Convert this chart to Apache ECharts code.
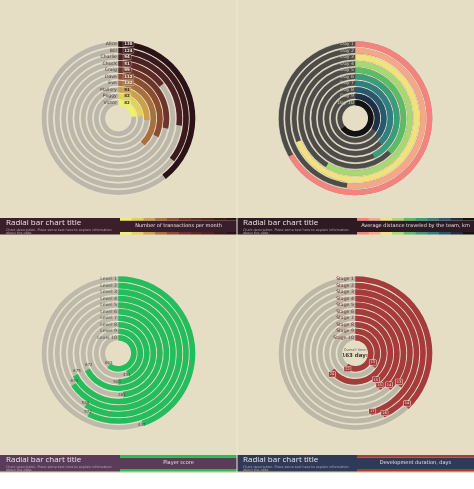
<!DOCTYPE html>
<html>
<head>
<meta charset="utf-8">
<script src="https://cdn.jsdelivr.net/npm/echarts@6/dist/echarts.min.js"></script>
<style>
html,body{margin:0;padding:0;background:#e5dec4;}
#main{width:474px;height:489px;}
</style>
</head>
<body>
<div id="main"></div>
<script>
/* chart 1 - transactions */
var people = ['Alice','Bill','Charlie','Chuck','Craig','Dave','Eve','Mallory','Peggy','Victor'];
var transactions = [138,124,94,51,99,112,132,91,82,82];
var transactionsMax = 350;

/* chart 2 - distance */
var days = ['Day 1','Day 2','Day 3','Day 4','Day 5','Day 6','Day 7','Day 8','Day 9','Day 10'];
var distance = [240,187,248,211,135,154,135,128,122,233];
var distanceMax = 360;

/* chart 3 - player score */
var levels = ['Level 1','Level 2','Level 3','Level 4','Level 5','Level 6','Level 7','Level 8','Level 9','Level 10'];
var scores = [447,572,589,653,675,481,672,500,431,603];
var scoresMax = 1000;

/* chart 4 - development duration */
var stages = ['Stage 1','Stage 2','Stage 3','Stage 4','Stage 5','Stage 6','Stage 7','Stage 8','Stage 9','Stage 10'];
var duration = [14,16,17,13,14,15,15,24,13,22];
var durationMax = 37;

var colors1 = ['#2a1217','#3b1a1e','#4d2224','#5d2a27','#6e3429','#8b4d30','#a9703d','#caa04b','#e1d25a','#eef26a'];
var colors2 = ['#f4837d','#f6a886','#f2e27e','#a9d873','#5dbb66','#3b9c7a','#2f7f80','#27586e','#1e2f48','#121212'];

var chart = echarts.init(document.getElementById('main'));

var centers = [[118.3,118.3],[355.3,118.3],[118.3,353.3],[355.3,353.3]];
var maxes = [transactionsMax, distanceMax, scoresMax, durationMax];
var cats = [people, days, levels, stages];
var labelColors = ['#4a3535','#d4d0c4','#3f5244','#6b2a2a'];

var polar = [], angleAxis = [], radiusAxis = [];
for (var i = 0; i < 4; i++) {
    polar.push({center: centers[i], radius: [12.3, 77.5]});
    angleAxis.push({polarIndex: i, min: 0, max: maxes[i], startAngle: 90, clockwise: true, show: false});
    radiusAxis.push({
        polarIndex: i, type: 'category', data: cats[i], inverse: true, z: 10,
        axisLine: {show: false}, axisTick: {show: false}, splitLine: {show: false},
        axisLabel: {interval: 0, fontSize: 4.6, margin: 1.5, color: labelColors[i], fontFamily: 'DejaVu Sans'}
    });
}

function colored(values, cols) {
    return values.map(function(v, k){
        return {value: v, itemStyle: {color: cols[k]},
            label: {color: k < 7 ? '#f1e9e4' : '#3a2a1a', backgroundColor: cols[k]}};
    });
}

var gapLine = {borderColor: '#efeadb', borderWidth: 0.6};

var series = [
    {
        type: 'bar', coordinateSystem: 'polar', polarIndex: 0, barCategoryGap: '14%',
        data: colored(transactions, colors1),
        showBackground: true, backgroundStyle: Object.assign({color: '#bcb7a8'}, gapLine),
        label: {show: true, position: 'insideStart', rotate: 0, fontSize: 4, fontWeight: 'bold',
            borderColor: '#d8d0c0', borderWidth: 0.4, padding: [0.3, 1], fontFamily: 'DejaVu Sans'}
    },
    {
        type: 'bar', coordinateSystem: 'polar', polarIndex: 1, barCategoryGap: '14%',
        data: distance.map(function(v, k){ return {value: v, itemStyle: {color: colors2[k]}}; }),
        showBackground: true, backgroundStyle: Object.assign({color: '#4e4c47'}, gapLine)
    },
    {
        type: 'bar', coordinateSystem: 'polar', polarIndex: 2, barCategoryGap: '14%',
        data: scores, itemStyle: {color: '#25bd5c'},
        showBackground: true, backgroundStyle: Object.assign({color: '#bfb9a9'}, gapLine),
        label: {show: true, position: 'end', rotate: 0, fontSize: 4, color: '#4d4a3a', fontFamily: 'DejaVu Sans'}
    },
    {
        type: 'bar', coordinateSystem: 'polar', polarIndex: 3, barCategoryGap: '14%',
        data: duration, itemStyle: {color: '#a53b3b'},
        showBackground: true, backgroundStyle: Object.assign({color: '#bdb8a6'}, gapLine),
        label: {show: true, position: 'insideEnd', rotate: 0, fontSize: 3.6, color: '#f3e6dc',
            backgroundColor: '#a53b3b', borderColor: '#f0e4d8', borderWidth: 0.5, padding: [0.5, 1], fontFamily: 'DejaVu Sans'}
    }
];

var totalDays = duration.reduce(function(a, b){ return a + b; }, 0);

/* banners */
var desc = 'Chart description. Place some text here to explain information\nabout the data.';
var graphics = [];
function banner(x0, y0, leftCol, bodyCol, strip, name) {
    graphics.push({type: 'rect', shape: {x: x0, y: y0, width: 120, height: 16.5}, style: {fill: leftCol}});
    graphics.push({type: 'rect', shape: {x: x0 + 120, y: y0 + 2.5, width: 117, height: 11.5}, style: {fill: bodyCol}});
    var w = 117 / strip.length;
    for (var s = 0; s < strip.length; s++) {
        graphics.push({type: 'rect', shape: {x: x0 + 120 + s * w, y: y0, width: w + 0.3, height: 2.5}, style: {fill: strip[s]}});
        graphics.push({type: 'rect', shape: {x: x0 + 120 + s * w, y: y0 + 14, width: w + 0.3, height: 2.5}, style: {fill: strip[s]}});
    }
    graphics.push({type: 'text', x: x0 + 6, y: y0 + 0.5, style: {text: 'Radial bar chart title', fill: '#eee4e6', fontSize: 8, fontFamily: 'Open Sans'}});
    graphics.push({type: 'text', x: x0 + 6, y: y0 + 10, style: {text: desc, fill: '#b4a3ab', fontSize: 3.4, lineHeight: 3.6, fontFamily: 'DejaVu Sans'}});
    graphics.push({type: 'text', x: x0 + 178.5, y: y0 + 8.2, style: {text: name, fill: '#e9e2e0', fontSize: 5, fontFamily: 'DejaVu Sans', align: 'center', verticalAlign: 'middle'}});
}
banner(0, 218, '#3b1e2c', '#3b1e2c', colors1.slice().reverse(), 'Number of transactions per month');
banner(237, 218, '#2e1a24', '#2e1a24', colors2, 'Average distance traveled by the team, km');
banner(0, 455, '#5a3c5a', '#5a3c5a', ['#25bd5c'], 'Player score');
banner(237, 455, '#2e3a58', '#2e3a58', ['#a53b3b'], 'Development duration, days');

graphics.push({type: 'rect', shape: {x: 236.5, y: 0, width: 1, height: 473}, style: {fill: '#ede8d5'}});
graphics.push({type: 'rect', shape: {x: 0, y: 473, width: 474, height: 16}, style: {fill: '#ffffff'}});
graphics.push({type: 'text', x: centers[3][0], y: centers[3][1] - 3, style: {text: 'Overall time:', fill: '#6a6458', fontSize: 3.6, align: 'center', verticalAlign: 'middle', fontFamily: 'DejaVu Sans'}});
graphics.push({type: 'text', x: centers[3][0], y: centers[3][1] + 2.5, style: {text: totalDays + ' days', fill: '#3a3530', fontSize: 5.5, fontWeight: 'bold', align: 'center', verticalAlign: 'middle', fontFamily: 'DejaVu Sans'}});

chart.setOption({
    backgroundColor: '#e5dec4',
    animation: false,
    polar: polar,
    angleAxis: angleAxis,
    radiusAxis: radiusAxis,
    series: series,
    graphic: {elements: graphics}
});
</script>
</body>
</html>
